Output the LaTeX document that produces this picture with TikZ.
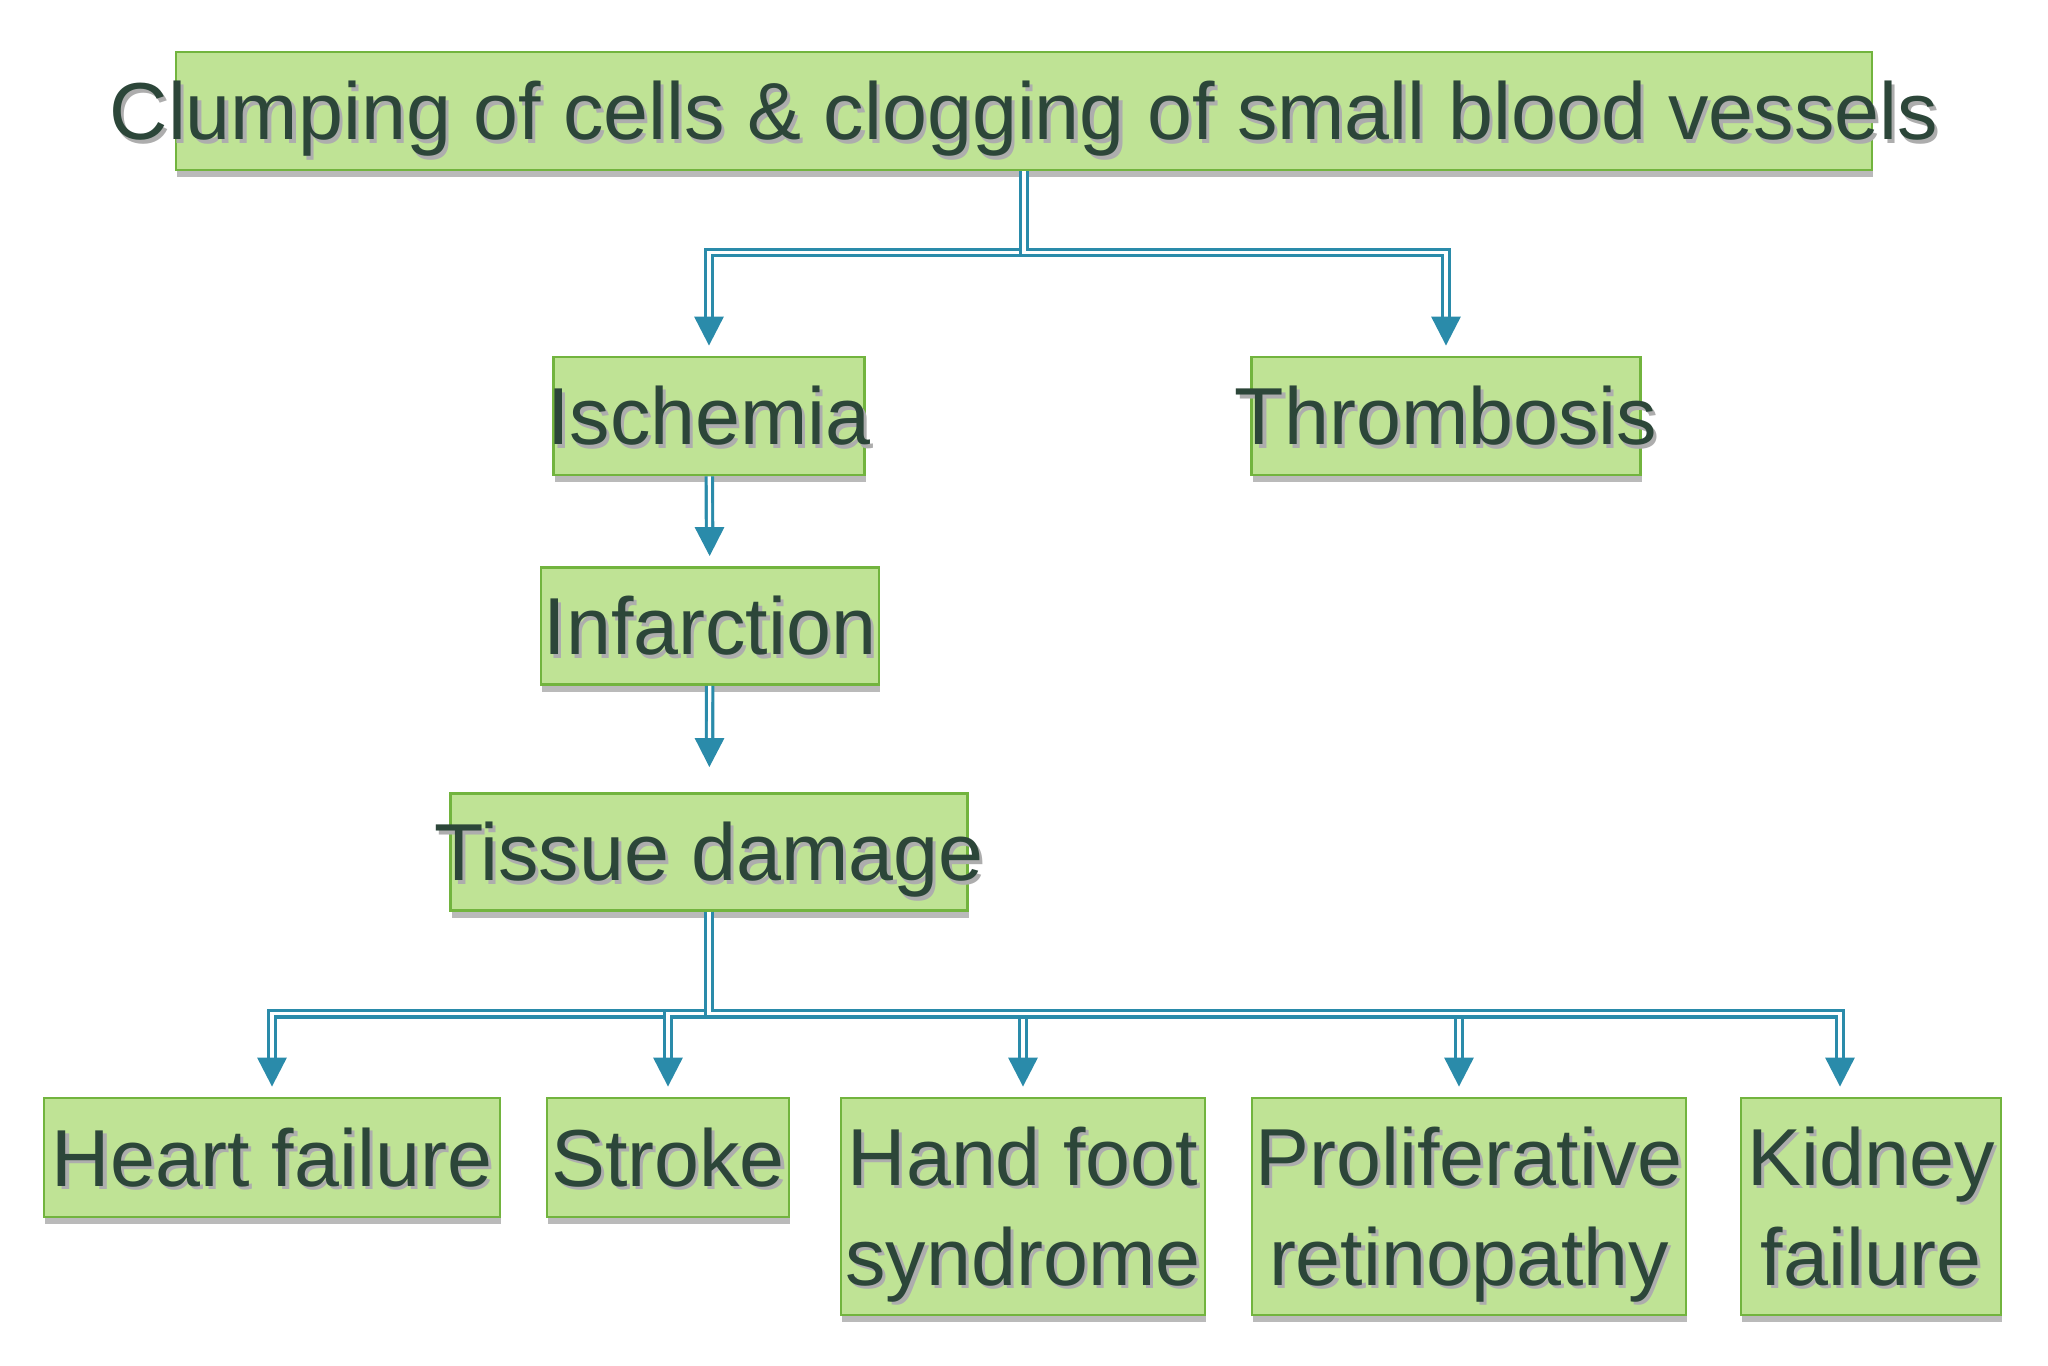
\documentclass[tikz,border=0pt]{standalone}
\usepackage{fontspec}
\setmainfont{Liberation Sans}
\usepackage{xcolor}
\usetikzlibrary{arrows.meta, positioning, calc, shadows}

\definecolor{boxfill}{HTML}{BFE395}
\definecolor{boxline}{HTML}{72B43E}
\definecolor{linkcol}{HTML}{2A8BAA}
\definecolor{txtcol}{HTML}{2C4639}

% text with a soft grey shadow behind it
\newcommand{\shtxt}[1]{\leavevmode\rlap{\hspace{0.9pt}\raisebox{-0.9pt}{\textcolor{black!32}{#1}}}#1}

\begin{document}
\begin{tikzpicture}[
  box/.style={draw=boxline, line width=0.8pt, fill=boxfill, text=txtcol,
              inner sep=0pt, align=center, text height=0.58cm, text depth=0pt,
              font=\fontsize{23}{28.5}\selectfont,
              drop shadow={shadow xshift=0.3pt, shadow yshift=-2pt,
                           fill=black!45, opacity=0.6}},
  twoline/.style={text height=1.58cm},
  link/.style={draw=linkcol, double=white, double distance=0.9pt, line width=0.9pt},
  arr/.style={link, -{Triangle[length=2.9mm, width=2.9mm, fill=linkcol]},
              shorten >=1mm}
]
  \useasboundingbox (0,0) rectangle (20.48,-13.66);

  % upper part
  \node[box, minimum width=16.96cm, minimum height=1.18cm] (clump) at (10.24,-1.11)
    {\makebox[0pt]{\shtxt{Clumping of cells \& clogging of small blood vessels}}};
  \node[box, minimum width=3.11cm, minimum height=1.18cm] (isch) at (7.09,-4.16)
    {\makebox[0pt]{\shtxt{Ischemia}}};
  \node[box, minimum width=3.89cm, minimum height=1.18cm] (thromb) at (14.46,-4.16)
    {\makebox[0pt]{\shtxt{Thrombosis}}};
  \node[box, minimum width=3.38cm, minimum height=1.17cm] (infarc) at (7.10,-6.26)
    {\makebox[0pt]{\shtxt{Infarction}}};
  \node[box, minimum width=5.17cm, minimum height=1.17cm] (tissue) at (7.09,-8.52)
    {\makebox[0pt]{\shtxt{Tissue damage}}};

  % consequences
  \node[box, minimum width=4.56cm, minimum height=1.19cm] (heart) at (2.72,-11.575)
    {\makebox[0pt]{\shtxt{Heart failure}}};
  \node[box, minimum width=2.42cm, minimum height=1.19cm] (stroke) at (6.68,-11.575)
    {\makebox[0pt]{\shtxt{Stroke}}};
  \node[box, twoline, minimum width=3.64cm, minimum height=2.17cm] (hand) at (10.23,-12.065)
    {\shtxt{Hand foot}\\\shtxt{syndrome}};
  \node[box, twoline, minimum width=4.34cm, minimum height=2.17cm] (prolif) at (14.69,-12.065)
    {\shtxt{Proliferative}\\\shtxt{retinopathy}};
  \node[box, twoline, minimum width=2.60cm, minimum height=2.17cm] (kidney) at (18.71,-12.065)
    {\shtxt{Kidney}\\\shtxt{failure}};

  \draw[arr] (clump.south) -- ++(0,-0.81) -| (isch.north);
  \draw[arr] (clump.south) -- ++(0,-0.81) -| (thromb.north);
  \draw[arr] (isch) -- (infarc);
  \draw[arr, shorten >=2.5mm] (infarc) -- (tissue);

  \draw[arr] (tissue.south) -- ++(0,-1.02) -| (heart.north);
  \draw[arr] (tissue.south) -- ++(0,-1.02) -| (stroke.north);
  \draw[arr] (tissue.south) -- ++(0,-1.02) -| (hand.north);
  \draw[arr] (tissue.south) -- ++(0,-1.02) -| ([xshift=-1mm]prolif.north);
  \draw[arr] (tissue.south) -- ++(0,-1.02) -| ([xshift=-3.1mm]kidney.north);
\end{tikzpicture}
\end{document}
